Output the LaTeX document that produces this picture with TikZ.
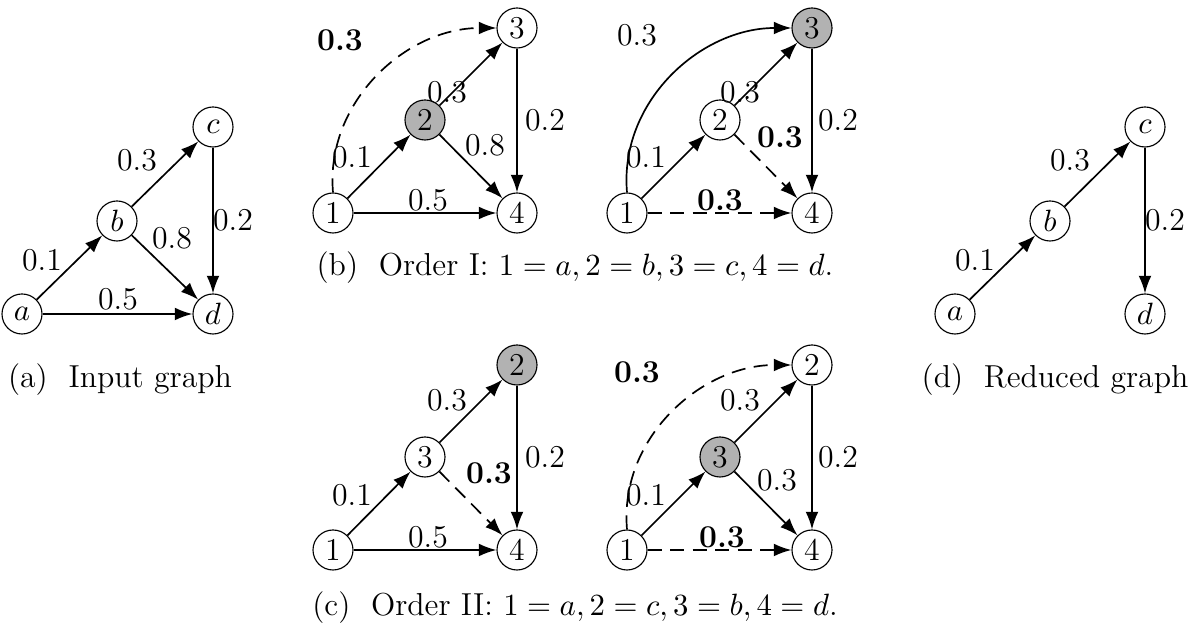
\documentclass[tikz,border=0pt]{standalone}
\usetikzlibrary{arrows.meta}
\begin{document}
\begin{tikzpicture}[x=0.0125cm,y=-0.0125cm,font=\fontsize{11.3}{13}\selectfont,
  vx/.style={circle,draw,minimum size=0.5cm,inner sep=0pt},
  sh/.style={vx,fill=gray!60},
  ed/.style={-{Latex[length=2.2mm,width=1.6mm]},semithick},
  dd/.style={ed,dashed,dash pattern=on 5pt off 3pt},
  lb/.style={inner sep=1pt},
  bl/.style={inner sep=1pt,font=\fontsize{11.3}{13}\selectfont\bfseries}]
\useasboundingbox (0,0) rectangle (1200,632);
% (a)
\node[vx] (aa) at (22,314) {$a$};
\node[vx] (ab) at (117,221) {$b$};
\node[vx] (ac) at (213,127) {$c$};
\node[vx] (ad) at (213,314) {$d$};
\draw[ed] (aa)--(ab); \draw[ed] (ab)--(ac); \draw[ed] (ac)--(ad); \draw[ed] (ab)--(ad); \draw[ed] (aa)--(ad);
\node[lb] (la1) at (42,260) {0.1}; \node[lb] (la2) at (137,160) {0.3};
\node[lb] (la3) at (233,220) {0.2}; \node[lb] (la4) at (172,238) {0.8};
\node[lb] (la5) at (118,299) {0.5};
\node (ca) at (120,380) {(a)~ Input graph};
% (b) left
\node[vx] (b1) at (333,213) {1};
\node[sh] (b2) at (425,120) {2};
\node[vx] (b3) at (517,28) {3};
\node[vx] (b4) at (517,213) {4};
\draw[ed] (b1)--(b2); \draw[ed] (b2)--(b3); \draw[ed] (b3)--(b4); \draw[ed] (b2)--(b4); \draw[ed] (b1)--(b4);
\draw[dd] (b1.north) to[out=95,in=180] (b3.west);
\node[bl] (lb0) at (340,40) {0.3};
\node[lb] (lb1) at (352,157) {0.1}; \node[lb] (lb2) at (447,92) {0.3};
\node[lb] (lb3) at (485,145) {0.8}; \node[lb] (lb4) at (545,120) {0.2};
\node[lb] (lb5) at (428,200) {0.5};
% (b) right
\node[vx] (c1) at (627,213) {1};
\node[vx] (c2) at (720,120) {2};
\node[sh] (c3) at (812,28) {3};
\node[vx] (c4) at (812,213) {4};
\draw[ed] (c1)--(c2); \draw[ed] (c2)--(c3); \draw[ed] (c3)--(c4); \draw[dd] (c2)--(c4); \draw[dd] (c1)--(c4);
\draw[ed] (c1.north) to[out=95,in=180] (c3.west);
\node[lb] (lc0) at (637,35) {0.3};
\node[lb] (lc1) at (646,157) {0.1}; \node[lb] (lc2) at (740,92) {0.3};
\node[bl] (lc3) at (780,137) {0.3}; \node[lb] (lc4) at (838,120) {0.2};
\node[bl] (lc5) at (720,200) {0.3};
\node (cb) at (575,268) {(b)~ Order I: $1=a,2=b,3=c,4=d$.};
% (c) left
\node[vx] (d1) at (333,550) {1};
\node[vx] (d3) at (425,457) {3};
\node[sh] (d2) at (517,365) {2};
\node[vx] (d4) at (517,550) {4};
\draw[ed] (d1)--(d3); \draw[ed] (d3)--(d2); \draw[ed] (d2)--(d4); \draw[dd] (d3)--(d4); \draw[ed] (d1)--(d4);
\node[lb] (ld1) at (352,495) {0.1}; \node[lb] (ld2) at (447,400) {0.3};
\node[bl] (ld3) at (489,473) {0.3}; \node[lb] (ld4) at (545,457) {0.2};
\node[lb] (ld5) at (428,537) {0.5};
% (c) right
\node[vx] (e1) at (627,550) {1};
\node[sh] (e3) at (720,457) {3};
\node[vx] (e2) at (812,365) {2};
\node[vx] (e4) at (812,550) {4};
\draw[ed] (e1)--(e3); \draw[ed] (e3)--(e2); \draw[ed] (e2)--(e4); \draw[ed] (e3)--(e4); \draw[dd] (e1)--(e4);
\draw[dd] (e1.north) to[out=95,in=180] (e2.west);
\node[bl] (le0) at (637,372) {0.3};
\node[lb] (le1) at (646,495) {0.1}; \node[lb] (le2) at (740,400) {0.3};
\node[lb] (le3) at (777,480) {0.3}; \node[lb] (le4) at (838,457) {0.2};
\node[bl] (le5) at (722,537) {0.3};
\node (cc) at (575,608) {(c)~ Order II: $1=a,2=c,3=b,4=d$.};
% (d)
\node[vx] (fa) at (955,314) {$a$};
\node[vx] (fb) at (1050,221) {$b$};
\node[vx] (fc) at (1145,127) {$c$};
\node[vx] (fd) at (1145,314) {$d$};
\draw[ed] (fa)--(fb); \draw[ed] (fb)--(fc); \draw[ed] (fc)--(fd);
\node[lb] (lf1) at (975,260) {0.1}; \node[lb] (lf2) at (1070,160) {0.3};
\node[lb] (lf3) at (1165,220) {0.2};
\node (cd) at (1055,380) {(d)~ Reduced graph};
\end{tikzpicture}
\end{document}
